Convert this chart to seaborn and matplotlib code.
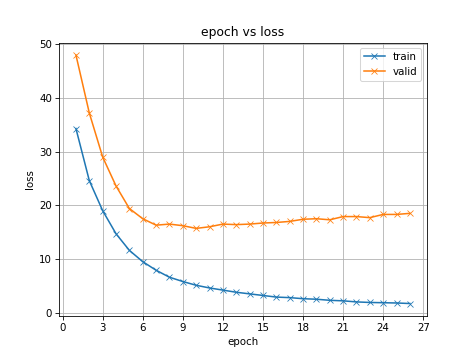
import matplotlib
matplotlib.use("Agg")
import matplotlib.pyplot as plt
import seaborn as sns

epochs = list(range(1, 27))
train_loss = [34.3, 24.6, 19.0, 14.7, 11.6, 9.5, 7.9, 6.6, 5.8, 5.1, 4.6, 4.2, 3.8,
              3.5, 3.2, 2.9, 2.8, 2.6, 2.5, 2.3, 2.2, 2.0, 1.9, 1.85, 1.8, 1.7]
valid_loss = [48.0, 37.2, 29.0, 23.6, 19.4, 17.5, 16.3, 16.5, 16.2, 15.7, 16.0, 16.5, 16.4,
              16.5, 16.7, 16.8, 17.0, 17.4, 17.5, 17.3, 17.9, 17.9, 17.7, 18.3, 18.3, 18.5]

DPI = 74
fig, ax = plt.subplots(figsize=(474 / DPI, 355 / DPI), dpi=DPI)
sns.lineplot(x=epochs, y=train_loss, marker="x", color="#1f77b4", label="train",
             ax=ax, markeredgecolor="#1f77b4", linewidth=1.5)
sns.lineplot(x=epochs, y=valid_loss, marker="x", color="#ff7f0e", label="valid",
             ax=ax, markeredgecolor="#ff7f0e", linewidth=1.5)
ax.set_title("epoch vs loss")
ax.set_xlabel("epoch")
ax.set_ylabel("loss")
ax.set_xticks(range(0, 28, 3))
ax.grid(True)
ax.legend(loc="upper right")
fig.savefig("out.png", dpi=DPI)
